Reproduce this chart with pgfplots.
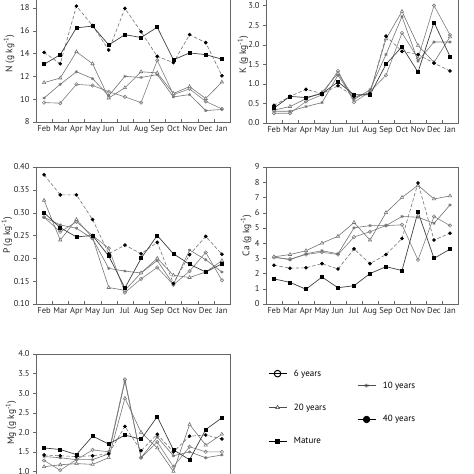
\documentclass[border=0pt]{standalone}
\usepackage{fontspec}
\setmainfont{PT Sans}
\usepackage{pgfplots}
\pgfplotsset{compat=1.18}
\usepackage{pgfplotstable}

% columns: month index, 6, 10, 20, 40 years, mature
\pgfplotstableread{
m  a     b     c     d     e
0  9.7   10.1  11.45 14.1  13.05
1  9.65  11.3  11.85 13.1  13.9
2  11.3  12.4  14.15 18.15 16.25
3  11.2  11.8  13.1  16.45 16.4
4  10.65 10.3  10.1  14.3  14.75
5  10.2  12.0  11.0  17.95 15.65
6  9.7   11.9  12.4  15.9  15.4
7  13.4  12.15 12.3  13.75 16.3
8  10.4  10.2  10.5  13.2  13.45
9  10.9  10.4  11.1  15.65 14.05
10 9.8   9.0   10.05 14.95 13.9
11 9.15  9.1   11.5  12.05 13.5
}\Ntab

\pgfplotstableread{
m  a    b    c    d    e
0  0.25 0.30 0.33 0.45 0.38
1  0.25 0.30 0.42 0.68 0.68
2  0.55 0.42 0.62 0.86 0.65
3  0.72 0.52 0.78 0.75 0.75
4  1.33 1.22 1.27 0.95 1.05
5  0.53 0.60 0.65 0.68 0.72
6  0.80 0.85 0.78 0.75 0.72
7  1.22 1.75 2.15 2.22 1.50
8  2.30 2.72 2.85 1.83 1.95
9  1.65 1.58 1.98 1.75 1.30
10 3.00 2.07 1.55 1.53 2.57
11 2.25 2.07 2.20 1.33 1.70
}\Ktab

\pgfplotstableread{
m  a     b     c     d     e
0  0.29  0.29  0.327 0.383 0.30
1  0.258 0.273 0.24  0.339 0.267
2  0.28  0.266 0.285 0.339 0.247
3  0.25  0.243 0.245 0.285 0.25
4  0.222 0.178 0.136 0.21  0.205
5  0.125 0.172 0.13  0.229 0.135
6  0.155 0.168 0.168 0.21  0.20
7  0.18  0.195 0.20  0.235 0.25
8  0.142 0.143 0.163 0.145 0.21
9  0.172 0.218 0.158 0.208 0.187
10 0.213 0.197 0.17  0.248 0.17
11 0.152 0.17  0.195 0.209 0.188
}\Ptab

\pgfplotstableread{
m  a    b    c    d    e
0  3.05 3.1  3.1  2.55 1.65
1  2.95 2.9  3.25 2.35 1.42
2  3.25 3.3  3.5  2.38 0.97
3  3.4  3.5  4.0  2.65 1.77
4  3.25 3.3  4.45 2.3  1.07
5  4.4  5.0  5.35 3.62 1.2
6  4.75 5.15 4.2  2.65 2.0
7  5.15 5.15 6.0  3.25 2.45
8  5.2  5.75 7.0  4.3  2.2
9  2.9  5.7  7.8  7.95 6.05
10 5.75 5.3  6.9  4.2  3.0
11 5.15 6.5  7.1  4.65 3.6
}\Catab

\pgfplotstableread{
m  a    b    c    d    e
0  1.28 1.38 1.12 1.42 1.6
1  1.03 1.35 1.17 1.4  1.56
2  1.3  1.3  1.2  1.38 1.43
3  1.55 1.3  1.18 1.4  1.9
4  1.5  1.45 1.35 1.45 1.7
5  3.35 3.3  2.87 2.15 1.93
6  1.35 1.35 2.0  1.53 1.82
7  1.75 1.88 1.6  1.95 2.4
8  1.12 1.4  1.0  1.5  1.55
9  1.63 1.5  2.2  1.9  1.3
10 1.5  1.35 1.67 1.93 2.07
11 1.5  1.42 1.95 1.83 2.37
}\Mgtab

\pgfplotsset{
  panel/.style 2 args={
    scale only axis, width=194pt, height=137pt,
    at={#1}, anchor=south west,
    xmin=-0.5, xmax=11.5,
    xtick={0,...,11},
    xticklabels={Feb,Mar,Apr,May,Jun,Jul,Aug,Sep,Oct,Nov,Dec,Jan},
    minor xtick={-0.5,0.5,...,11.5},
    major x tick style={draw=none},
    minor x tick style={black!60},
    minor tick length=3pt,
    major tick length=3pt,
    xtick align=inside, ytick align=outside,
    xtick pos=bottom, ytick pos=left,
    axis line style={black!60, line width=0.6pt},
    ytick style={black!60},
    tick label style={font=\fontsize{8.5}{10}\selectfont, black!85},
    label style={font=\fontsize{9.5}{11}\selectfont, black!85},
    /pgf/number format/assume math mode=true,
    ylabel style={at={(axis description cs:#2,0.5)}, anchor=center},
  },
  s6/.style={black!50, line width=0.6pt, mark=o, mark size=1.7pt, mark options={solid, fill=white, draw=black!50}},
  s10/.style={black!55, line width=0.6pt, mark=asterisk, mark size=1.6pt, mark options={solid}},
  s20/.style={black!55, line width=0.6pt, mark=triangle*, mark size=1.9pt, mark options={solid, fill=white, draw=black!55}},
  s40/.style={black!55, line width=0.6pt, dash pattern=on 3.5pt off 2pt, mark=*, mark size=1.5pt, mark options={solid, fill=black, draw=black}},
  sM/.style={black!75, line width=0.7pt, mark=square*, mark size=1.5pt, mark options={solid, fill=black, draw=black}},
  leg/.style={hide axis, scale only axis, width=474pt, height=474pt, at={(0pt,0pt)}, anchor=south west,
    xmin=0, xmax=1, ymin=0, ymax=1,
    legend style={draw=none, fill=none, inner sep=0pt, row sep=22pt,
      font=\fontsize{9}{10}\selectfont, /tikz/every odd column/.append style={column sep=5pt}},
    legend cell align=left,
    legend image code/.code={\draw[mark repeat=2,mark phase=2,##1] plot coordinates {(0pt,0pt)(9pt,0pt)(18pt,0pt)};},
  },
}

\newcommand\series[1]{%
  \addplot[s6]  table[x=m,y=a] {#1};
  \addplot[s10] table[x=m,y=b] {#1};
  \addplot[s20] table[x=m,y=c] {#1};
  \addplot[s40] table[x=m,y=d] {#1};
  \addplot[sM]  table[x=m,y=e] {#1};
}

\begin{document}
\begin{tikzpicture}
\useasboundingbox (0pt,0pt) rectangle (474pt,474pt);

% N
\begin{axis}[panel={(36pt,352pt)}{-0.139}, ymin=8, ymax=20, ytick={8,10,...,18},
  ylabel={N (g kg\textsuperscript{-1})}]
\series{\Ntab}
\end{axis}

% K
\begin{axis}[panel={(266pt,351pt)}{-0.12}, width=192pt, ymin=0, ymax=3.5, ytick={0,0.5,...,3.0},
  yticklabel style={/pgf/number format/.cd, fixed, fixed zerofill, precision=1},
  ylabel={K (g kg\textsuperscript{-1})}]
\series{\Ktab}
\end{axis}

% P
\begin{axis}[panel={(36pt,170pt)}{-0.15}, ymin=0.1, ymax=0.4, ytick={0.10,0.15,0.20,0.25,0.30,0.35,0.40},
  yticklabel style={/pgf/number format/.cd, fixed, fixed zerofill, precision=2},
  ylabel={P (g kg\textsuperscript{-1})}]
\series{\Ptab}
\end{axis}

% Ca
\begin{axis}[panel={(266pt,170pt)}{-0.104}, width=192pt, ymin=0, ymax=9, ytick={0,...,9},
  ylabel={Ca (g kg\textsuperscript{-1})}]
\series{\Catab}
\end{axis}

% Mg (lower part lies below the page)
\begin{axis}[panel={(36pt,-17pt)}{-0.129}, ymin=0.5, ymax=4, ytick={1.0,1.5,2.0,2.5,3.0,3.5,4.0},
  xticklabels={}, ylabel style={yshift=0pt},
  yticklabel style={/pgf/number format/.cd, fixed, fixed zerofill, precision=1},
  ylabel={Mg (g kg\textsuperscript{-1})}]
\series{\Mgtab}
\end{axis}

% legend, left group
\begin{axis}[leg, legend style={at={(0.5654,0.1403)}, anchor=west}]
\addlegendimage{black, line width=0.7pt, mark=o, mark size=3.3pt, mark options={line width=1pt, fill=white}}
\addlegendentry{6 years}
\addlegendimage{black!70, line width=0.6pt, mark=triangle*, mark size=2.2pt, mark options={fill=white}}
\addlegendentry{20 years}
\addlegendimage{black, line width=0.7pt, mark=square*, mark size=2pt}
\addlegendentry{Mature}
\end{axis}

% legend, right group
\begin{axis}[leg, legend style={at={(0.7532,0.1508)}, anchor=west}]
\addlegendimage{black!70, line width=0.6pt, mark=asterisk, mark size=2pt}
\addlegendentry{10 years}
\addlegendimage{black, line width=0.7pt, mark=*, mark size=3.3pt}
\addlegendentry{40 years}
\end{axis}
\end{tikzpicture}
\end{document}
